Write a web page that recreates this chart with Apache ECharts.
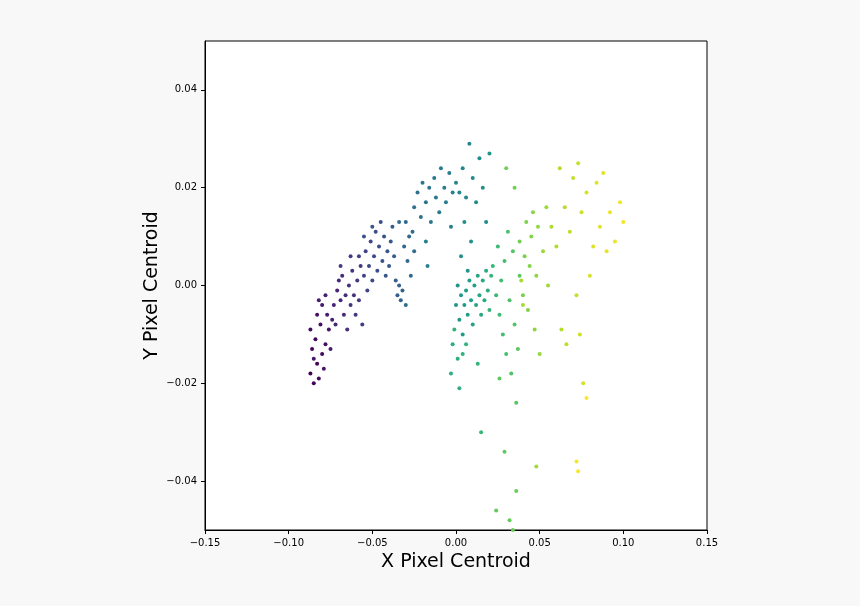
<!DOCTYPE html>
<html>
<head>
<meta charset="utf-8">
<script src="https://cdn.jsdelivr.net/npm/echarts@6/dist/echarts.min.js"></script>
<style>html,body{margin:0;background:#f8f8f8;}#chart{width:860px;height:606px;}</style>
</head>
<body>
<div id="chart"></div>
<script>
// points, in colour order (purple -> yellow)
var points = [
// purple
[-0.087,-0.018],[-0.085,-0.020],[-0.083,-0.016],[-0.086,-0.013],[-0.082,-0.019],[-0.084,-0.011],[-0.080,-0.014],[-0.087,-0.009],[-0.081,-0.008],[-0.078,-0.012],[-0.083,-0.006],[-0.079,-0.017],[-0.076,-0.009],[-0.085,-0.015],[-0.080,-0.004],[-0.077,-0.006],[-0.075,-0.013],[-0.082,-0.003],[-0.074,-0.007],[-0.078,-0.002],
// dark blue
[-0.073,-0.004],[-0.071,-0.001],[-0.072,-0.008],[-0.069,-0.003],[-0.070,0.001],[-0.067,-0.006],[-0.068,0.002],[-0.066,-0.002],[-0.065,-0.009],[-0.064,0.000],[-0.063,-0.004],[-0.062,0.003],[-0.061,-0.002],[-0.060,-0.006],[-0.059,0.001],[-0.058,-0.003],[-0.057,0.004],[-0.063,0.006],[-0.069,0.004],[-0.056,-0.008],
// blue
[-0.058,0.006],[-0.055,0.002],[-0.054,0.007],[-0.053,-0.001],[-0.052,0.004],[-0.051,0.009],[-0.050,0.001],[-0.049,0.006],[-0.048,0.011],[-0.047,0.003],[-0.046,0.008],[-0.045,0.013],[-0.044,0.005],[-0.043,0.010],[-0.055,0.010],[-0.050,0.012],[-0.042,0.002],[-0.041,0.007],
// blue-teal
[-0.040,0.004],[-0.039,0.009],[-0.038,0.012],[-0.037,0.006],[-0.036,0.001],[-0.035,-0.002],[-0.034,0.000],[-0.033,-0.003],[-0.032,-0.001],[-0.031,0.008],[-0.030,0.013],[-0.029,0.005],[-0.028,0.010],[-0.027,0.002],[-0.026,0.011],[-0.034,0.013],[-0.030,-0.004],[-0.025,0.007],
// teal
[-0.025,0.016],[-0.023,0.019],[-0.021,0.014],[-0.020,0.021],[-0.018,0.017],[-0.016,0.020],[-0.015,0.013],[-0.013,0.022],[-0.012,0.018],[-0.010,0.015],[-0.009,0.024],[-0.007,0.020],[-0.006,0.017],[-0.004,0.023],[-0.003,0.012],[-0.018,0.009],[-0.017,0.004],[-0.002,0.019],
// teal-green
[0.000,0.021],[0.002,0.019],[0.004,0.024],[0.006,0.018],[0.008,0.029],[0.010,0.022],[0.012,0.017],[0.014,0.026],[0.016,0.020],[0.018,0.013],[0.005,0.013],[0.009,0.009],[0.003,0.006],[0.007,0.003],[0.001,0.000],[0.020,0.027],
// green
[0.000,-0.004],[0.002,-0.007],[0.003,-0.002],[0.004,-0.010],[0.005,-0.004],[0.006,-0.001],[0.007,-0.006],[0.008,0.001],[0.009,-0.003],[0.010,-0.008],[0.011,0.000],[0.012,-0.004],[0.013,0.002],[0.014,-0.002],[0.015,-0.006],[0.016,0.001],[0.017,-0.003],[0.018,0.003],[0.019,-0.001],[-0.002,-0.012],[0.001,-0.015],[-0.003,-0.018],[0.002,-0.021],[0.004,-0.014],[-0.001,-0.009],[0.006,-0.012],[0.013,-0.016],[0.020,-0.005],[0.021,0.002],[0.015,-0.030],
// light green
[0.022,0.004],[0.024,-0.002],[0.025,0.008],[0.026,-0.006],[0.027,0.001],[0.028,-0.010],[0.029,0.005],[0.030,-0.014],[0.031,0.011],[0.032,-0.003],[0.033,-0.018],[0.034,0.007],[0.035,-0.008],[0.036,-0.024],[0.037,-0.013],[0.038,0.002],[0.026,-0.019],[0.029,-0.034],[0.024,-0.046],[0.032,-0.048],[0.036,-0.042],[0.034,-0.050],[0.035,0.020],[0.030,0.024],
// yellow-green
[0.038,0.009],[0.040,-0.002],[0.041,0.006],[0.042,0.013],[0.043,-0.005],[0.044,0.004],[0.045,0.010],[0.046,0.015],[0.047,-0.009],[0.048,0.002],[0.049,0.012],[0.050,-0.014],[0.052,0.007],[0.054,0.016],[0.055,0.000],[0.048,-0.037],[0.040,-0.004],[0.039,0.001],
// yellow
[0.057,0.012],[0.060,0.008],[0.062,0.024],[0.063,-0.009],[0.065,0.016],[0.066,-0.012],[0.068,0.011],[0.070,0.022],[0.072,-0.002],[0.073,0.025],[0.074,-0.010],[0.075,0.015],[0.076,-0.020],[0.078,0.019],[0.080,0.002],[0.082,0.008],[0.084,0.021],[0.086,0.012],[0.088,0.023],[0.090,0.007],[0.092,0.015],[0.095,0.009],[0.098,0.017],[0.100,0.013],[0.072,-0.036],[0.073,-0.038],[0.078,-0.023]
];
var yTicks = [-0.04, -0.02, 0, 0.02, 0.04];
var viridis = ['#440154','#482878','#3e4989','#31688e','#26828e','#1f9e89','#35b779','#6ece58','#b5de2b','#fde725'];

var seriesData = points.map(function (p, i) { return [p[0], p[1], i]; });
function fmt(v) { var s = Math.abs(v).toFixed(2); return (v < -1e-9 ? '\u2212' : '') + s; }

var chart = echarts.init(document.getElementById('chart'));
chart.setOption({
  backgroundColor: '#f8f8f8',
  animation: false,
  grid: { left: 205, right: 153, top: 41, bottom: 76, show: true, backgroundColor: '#fff', borderColor: '#000', borderWidth: 1 },
  visualMap: { show: false, type: 'continuous', dimension: 2, min: 0, max: points.length - 1, inRange: { color: viridis } },
  xAxis: {
    type: 'value', min: -0.15, max: 0.15, interval: 0.05,
    name: 'X Pixel Centroid', nameLocation: 'middle', nameGap: 23,
    nameTextStyle: { fontSize: 19, color: '#000', fontFamily: 'DejaVu Sans' },
    axisLine: { onZero: false, lineStyle: { color: '#000' } },
    axisTick: { lineStyle: { color: '#000' }, length: 4 },
    axisLabel: { color: '#000', fontSize: 10, fontFamily: 'DejaVu Sans', formatter: fmt },
    splitLine: { show: false }
  },
  yAxis: {
    type: 'value', min: -0.05, max: 0.05,
    name: 'Y Pixel Centroid', nameLocation: 'middle', nameGap: 43, nameMoveOverlap: false,
    nameTextStyle: { fontSize: 19, color: '#000', fontFamily: 'DejaVu Sans' },
    axisLine: { onZero: false, lineStyle: { color: '#000' } },
    axisTick: { lineStyle: { color: '#000' }, length: 4, customValues: yTicks },
    axisLabel: { color: '#000', fontSize: 10, fontFamily: 'DejaVu Sans', formatter: fmt, customValues: yTicks },
    splitLine: { show: false }
  },
  series: [{ type: 'scatter', symbolSize: 4, itemStyle: { opacity: 1 }, data: seriesData }]
});
</script>
</body>
</html>
